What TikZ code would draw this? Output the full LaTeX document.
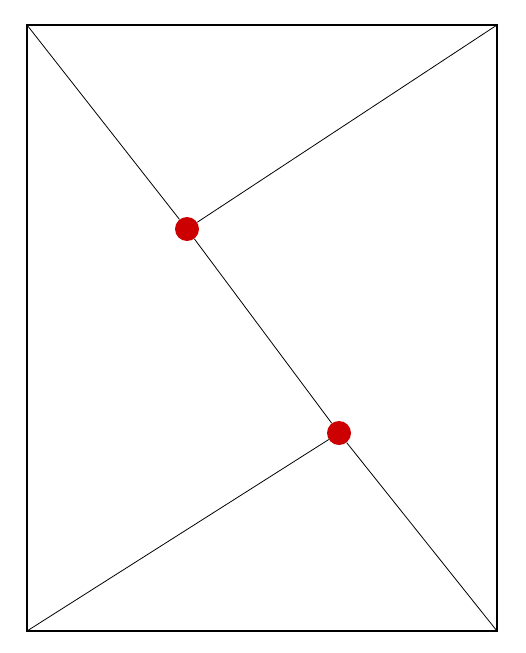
\documentclass[tikz,border=0pt]{standalone}
\definecolor{dotred}{RGB}{204,0,0}
\tikzset{
    dot/.style={circle, fill=dotred, inner sep=0pt, minimum size=24pt},
    frame/.style={line width=2pt},
    link/.style={line width=0.8pt}
}
\begin{document}
\begin{tikzpicture}[x=1pt,y=-1pt]
        \begin{scope}
            \useasboundingbox (0,0) rectangle (525,653);

            \coordinate (tl) at (27,25);
            \coordinate (tr) at (497,25);
            \coordinate (bl) at (27,631);
            \coordinate (br) at (497,631);

            \node [dot] (upper) at (187,229) {};
            \node [dot] (lower) at (339,433) {};

            \draw [frame] (tl) rectangle (br);

            \draw [link] (tl) -- (upper);
            \draw [link] (upper) -- (tr);
            \draw [link] (upper) -- (lower);
            \draw [link] (lower) -- (br);
            \draw [link] (lower) -- (bl);

        \end{scope}
    \end{tikzpicture}
\end{document}
